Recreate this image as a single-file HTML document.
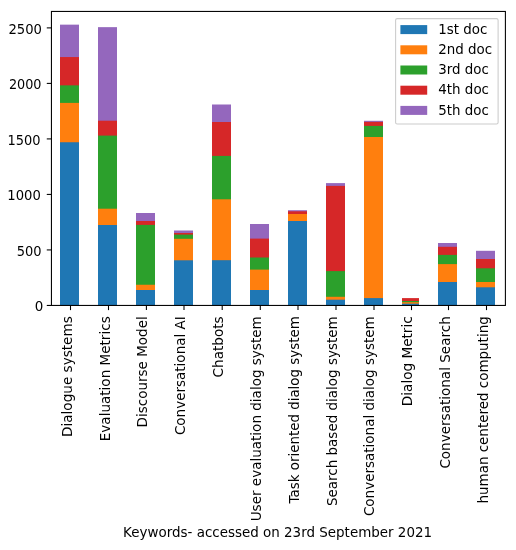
<!DOCTYPE html>
<html><head><meta charset="utf-8"><title>Keywords chart</title>
<style>
html,body{margin:0;padding:0;background:#fff;}
body{width:516px;height:550px;overflow:hidden;}
svg{display:block;}
text{font-family:"DejaVu Sans","Liberation Sans",sans-serif;font-size:14.3px;fill:#000;}
</style></head><body>
<svg width="516" height="550" viewBox="0 0 516 550">
<rect x="0" y="0" width="516" height="550" fill="#fff"/>
<g>
<rect x="60" y="24.65" width="19" height="280.79" fill="#9467bd"/>
<rect x="60" y="57.05" width="19" height="248.39" fill="#d62728"/>
<rect x="60" y="85.35" width="19" height="220.09" fill="#2ca02c"/>
<rect x="60" y="102.9" width="19" height="202.54" fill="#ff7f0e"/>
<rect x="60" y="142.25" width="19" height="163.19" fill="#1f77b4"/>
<rect x="98" y="27.15" width="19" height="278.29" fill="#9467bd"/>
<rect x="98" y="120.7" width="19" height="184.74" fill="#d62728"/>
<rect x="98" y="135.6" width="19" height="169.84" fill="#2ca02c"/>
<rect x="98" y="208.7" width="19" height="96.74" fill="#ff7f0e"/>
<rect x="98" y="225" width="19" height="80.44" fill="#1f77b4"/>
<rect x="136" y="213" width="19" height="92.44" fill="#9467bd"/>
<rect x="136" y="221" width="19" height="84.44" fill="#d62728"/>
<rect x="136" y="224.9" width="19" height="80.54" fill="#2ca02c"/>
<rect x="136" y="284.75" width="19" height="20.69" fill="#ff7f0e"/>
<rect x="136" y="290" width="19" height="15.44" fill="#1f77b4"/>
<rect x="174" y="230.5" width="19" height="74.94" fill="#9467bd"/>
<rect x="174" y="233" width="19" height="72.44" fill="#d62728"/>
<rect x="174" y="234.6" width="19" height="70.84" fill="#2ca02c"/>
<rect x="174" y="238.8" width="19" height="66.64" fill="#ff7f0e"/>
<rect x="174" y="260.3" width="19" height="45.14" fill="#1f77b4"/>
<rect x="212" y="104.5" width="19" height="200.94" fill="#9467bd"/>
<rect x="212" y="122" width="19" height="183.44" fill="#d62728"/>
<rect x="212" y="155.9" width="19" height="149.54" fill="#2ca02c"/>
<rect x="212" y="199.3" width="19" height="106.14" fill="#ff7f0e"/>
<rect x="212" y="260.2" width="19" height="45.24" fill="#1f77b4"/>
<rect x="250" y="224" width="19" height="81.44" fill="#9467bd"/>
<rect x="250" y="238.6" width="19" height="66.84" fill="#d62728"/>
<rect x="250" y="257.5" width="19" height="47.94" fill="#2ca02c"/>
<rect x="250" y="269.6" width="19" height="35.84" fill="#ff7f0e"/>
<rect x="250" y="290" width="19" height="15.44" fill="#1f77b4"/>
<rect x="288" y="210.2" width="19" height="95.24" fill="#9467bd"/>
<rect x="288" y="211.3" width="19" height="94.14" fill="#d62728"/>
<rect x="288" y="214" width="19" height="91.44" fill="#ff7f0e"/>
<rect x="288" y="221" width="19" height="84.44" fill="#1f77b4"/>
<rect x="326" y="183.1" width="19" height="122.34" fill="#9467bd"/>
<rect x="326" y="185.9" width="19" height="119.54" fill="#d62728"/>
<rect x="326" y="271.1" width="19" height="34.34" fill="#2ca02c"/>
<rect x="326" y="296.8" width="19" height="8.64" fill="#ff7f0e"/>
<rect x="326" y="299.7" width="19" height="5.74" fill="#1f77b4"/>
<rect x="364" y="120.8" width="19" height="184.64" fill="#9467bd"/>
<rect x="364" y="121.9" width="19" height="183.54" fill="#d62728"/>
<rect x="364" y="125.9" width="19" height="179.54" fill="#2ca02c"/>
<rect x="364" y="137" width="19" height="168.44" fill="#ff7f0e"/>
<rect x="364" y="298.1" width="19" height="7.34" fill="#1f77b4"/>
<rect x="402" y="298.1" width="17" height="7.34" fill="#d62728"/>
<rect x="402" y="301" width="17" height="4.44" fill="#2ca02c"/>
<rect x="402" y="302.2" width="17" height="3.24" fill="#ff7f0e"/>
<rect x="402" y="303.7" width="17" height="1.74" fill="#1f77b4"/>
<rect x="438" y="243" width="19" height="62.44" fill="#9467bd"/>
<rect x="438" y="246.8" width="19" height="58.64" fill="#d62728"/>
<rect x="438" y="254.9" width="19" height="50.54" fill="#2ca02c"/>
<rect x="438" y="264.1" width="19" height="41.34" fill="#ff7f0e"/>
<rect x="438" y="282" width="19" height="23.44" fill="#1f77b4"/>
<rect x="476" y="250.8" width="19" height="54.64" fill="#9467bd"/>
<rect x="476" y="259" width="19" height="46.44" fill="#d62728"/>
<rect x="476" y="268.3" width="19" height="37.14" fill="#2ca02c"/>
<rect x="476" y="282" width="19" height="23.44" fill="#ff7f0e"/>
<rect x="476" y="287.3" width="19" height="18.14" fill="#1f77b4"/>
</g>
<g stroke="#000" stroke-width="1.07" fill="none">
<rect x="51.44" y="11.44" width="453.96" height="294" stroke-linejoin="miter"/>
<line x1="46.77" y1="305.44" x2="51.44" y2="305.44"/>
<line x1="46.77" y1="249.93" x2="51.44" y2="249.93"/>
<line x1="46.77" y1="194.42" x2="51.44" y2="194.42"/>
<line x1="46.77" y1="138.91" x2="51.44" y2="138.91"/>
<line x1="46.77" y1="83.4" x2="51.44" y2="83.4"/>
<line x1="46.77" y1="27.89" x2="51.44" y2="27.89"/>
<line x1="70.5" y1="305.44" x2="70.5" y2="310.11"/>
<line x1="108.5" y1="305.44" x2="108.5" y2="310.11"/>
<line x1="146.4" y1="305.44" x2="146.4" y2="310.11"/>
<line x1="184" y1="305.44" x2="184" y2="310.11"/>
<line x1="222.2" y1="305.44" x2="222.2" y2="310.11"/>
<line x1="260.3" y1="305.44" x2="260.3" y2="310.11"/>
<line x1="298" y1="305.44" x2="298" y2="310.11"/>
<line x1="336" y1="305.44" x2="336" y2="310.11"/>
<line x1="374" y1="305.44" x2="374" y2="310.11"/>
<line x1="411.5" y1="305.44" x2="411.5" y2="310.11"/>
<line x1="448.5" y1="305.44" x2="448.5" y2="310.11"/>
<line x1="486.5" y1="305.44" x2="486.5" y2="310.11"/>
</g>
<g>
<text x="34.72" y="311.34" textLength="8.58" lengthAdjust="spacingAndGlyphs">0</text>
<text x="16.65" y="255.83" textLength="24.85" lengthAdjust="spacingAndGlyphs">500</text>
<text x="7.28" y="200.32" textLength="33.52" lengthAdjust="spacingAndGlyphs">1000</text>
<text x="7.58" y="144.81" textLength="33.02" lengthAdjust="spacingAndGlyphs">1500</text>
<text x="8.88" y="89.3" textLength="32.62" lengthAdjust="spacingAndGlyphs">2000</text>
<text x="8.48" y="33.79" textLength="33.52" lengthAdjust="spacingAndGlyphs">2500</text>
<text transform="translate(71.8,316.3) rotate(-90)" text-anchor="end" textLength="120.67" lengthAdjust="spacingAndGlyphs">Dialogue systems</text>
<text transform="translate(109.62,316.3) rotate(-90)" text-anchor="end" textLength="124.95" lengthAdjust="spacingAndGlyphs">Evaluation Metrics</text>
<text transform="translate(147.44,316.3) rotate(-90)" text-anchor="end" textLength="111.12" lengthAdjust="spacingAndGlyphs">Discourse Model</text>
<text transform="translate(185.26,316.3) rotate(-90)" text-anchor="end" textLength="118.78" lengthAdjust="spacingAndGlyphs">Conversational AI</text>
<text transform="translate(223.08,316.3) rotate(-90)" text-anchor="end" textLength="61.14" lengthAdjust="spacingAndGlyphs">Chatbots</text>
<text transform="translate(260.9,316.3) rotate(-90)" text-anchor="end" textLength="205.03" lengthAdjust="spacingAndGlyphs">User evaluation dialog system</text>
<text transform="translate(298.72,316.3) rotate(-90)" text-anchor="end" textLength="187.09" lengthAdjust="spacingAndGlyphs">Task oriented dialog system</text>
<text transform="translate(336.54,316.3) rotate(-90)" text-anchor="end" textLength="189.78" lengthAdjust="spacingAndGlyphs">Search based dialog system</text>
<text transform="translate(374.36,316.3) rotate(-90)" text-anchor="end" textLength="199.8" lengthAdjust="spacingAndGlyphs">Conversational dialog system</text>
<text transform="translate(412.18,316.3) rotate(-90)" text-anchor="end" textLength="89.92" lengthAdjust="spacingAndGlyphs">Dialog Metric</text>
<text transform="translate(450,316.3) rotate(-90)" text-anchor="end" textLength="152.32" lengthAdjust="spacingAndGlyphs">Conversational Search</text>
<text transform="translate(487.82,316.3) rotate(-90)" text-anchor="end" textLength="187.24" lengthAdjust="spacingAndGlyphs">human centered computing</text>
<text x="277.6" y="536.8" text-anchor="middle" textLength="309" lengthAdjust="spacingAndGlyphs">Keywords- accessed on 23rd September 2021</text>
</g>
<g>
<rect x="395.6" y="18.6" width="102.5" height="105.4" rx="1.6" ry="1.6" fill="#fff" fill-opacity="0.8" stroke="#cccccc" stroke-width="1.07"/>
<rect x="400.4" y="25.1" width="26.8" height="9.0" fill="#1f77b4"/>
<text x="438.2" y="33.7" textLength="49.14" lengthAdjust="spacingAndGlyphs">1st doc</text>
<rect x="400.4" y="45.3" width="26.8" height="9.0" fill="#ff7f0e"/>
<text x="438.2" y="53.9" textLength="53.98" lengthAdjust="spacingAndGlyphs">2nd doc</text>
<rect x="400.4" y="65.5" width="26.8" height="9.0" fill="#2ca02c"/>
<text x="438.2" y="74.1" textLength="50.67" lengthAdjust="spacingAndGlyphs">3rd doc</text>
<rect x="400.4" y="85.7" width="26.8" height="9.0" fill="#d62728"/>
<text x="438.2" y="94.3" textLength="50.84" lengthAdjust="spacingAndGlyphs">4th doc</text>
<rect x="400.4" y="105.9" width="26.8" height="9.0" fill="#9467bd"/>
<text x="438.2" y="114.5" textLength="50.64" lengthAdjust="spacingAndGlyphs">5th doc</text>
</g>
</svg>
</body></html>
